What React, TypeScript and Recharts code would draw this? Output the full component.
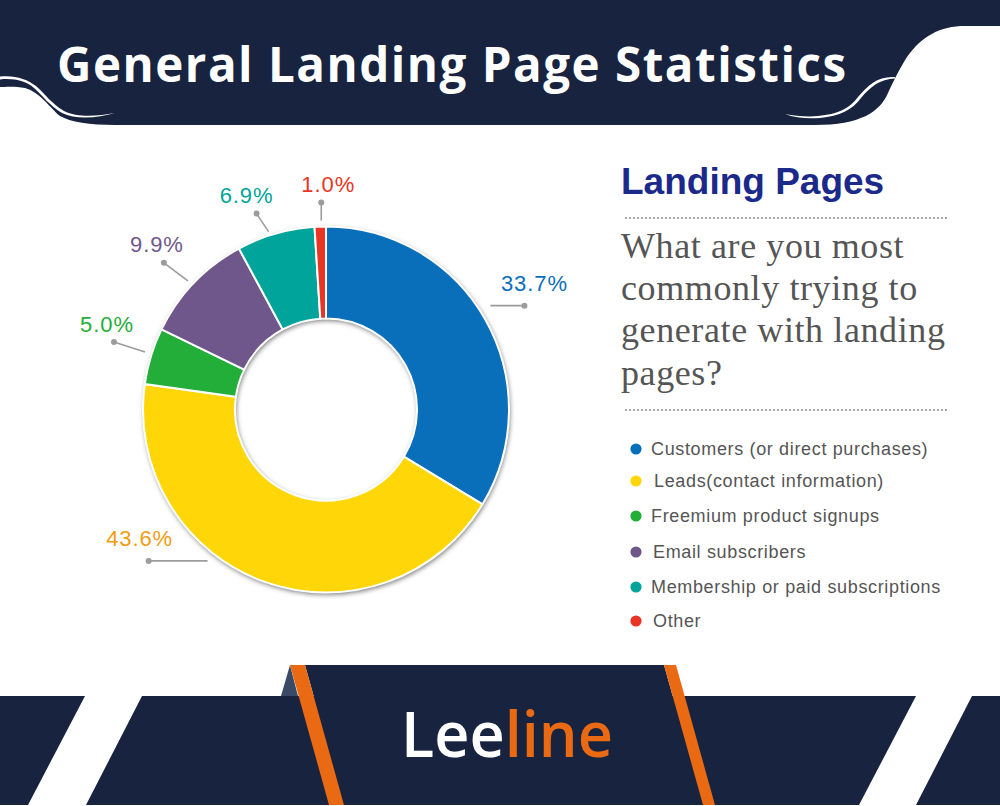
import React from "react";
import { PieChart, Pie, Cell, Legend } from "recharts";

const categories = [
  "Customers (or direct purchases)",
  "Leads(contact information)",
  "Freemium product signups",
  "Email subscribers",
  "Membership or paid subscriptions",
  "Other",
];
const values = [33.7, 43.6, 5.0, 9.9, 6.9, 1.0];
const sliceColors = ["#0a6fba", "#ffd608", "#22ae38", "#6f578c", "#00a49a", "#ea3424"];
const labelColors = ["#0a6fba", "#f39c12", "#22ae38", "#6f578c", "#00a49a", "#ea3424"];
const questionLines = ["What are you most", "commonly trying to", "generate with landing", "pages?"];

// leader-line layout, relative to the slice's outer mid-point: [start, dot, text centre]
const leaderOffsets = [
  [[5, -14], [39, -14], [49, -36]],
  [[-57, -21], [-116, -21], [-125, -43]],
  [[-6, -4], [-37, -14], [-44, -32]],
  [[-6, -2], [-30, -20], [-37, -38]],
  [[-7, -2], [-19, -20], [-29, -38]],
  [[1, -6], [1, -24], [8, -42]],
];
const legendRows = [
  { y: 449, textX: 651 },
  { y: 481, textX: 654 },
  { y: 516, textX: 651 },
  { y: 552, textX: 653 },
  { y: 587, textX: 651 },
  { y: 621, textX: 653 },
];

const data = categories.map((name, i) => ({ name, value: values[i] }));

const NAVY = "#17233f";
const ORANGE = "#e96a12";
const CX = 326;
const CY = 409.5;
const RAD = Math.PI / 180;

function SliceLabel(props: any) {
  const { cx, cy, midAngle, outerRadius, index, value } = props;
  const ex = cx + outerRadius * Math.cos(-midAngle * RAD);
  const ey = cy + outerRadius * Math.sin(-midAngle * RAD);
  const [s, d, t] = leaderOffsets[index];
  return (
    <g>
      <line x1={ex + s[0]} y1={ey + s[1]} x2={ex + d[0]} y2={ey + d[1]} stroke="#9c9c9c" strokeWidth={1.6} />
      <circle cx={ex + d[0]} cy={ey + d[1]} r={3} fill="#9c9c9c" />
      <text
        x={ex + t[0]}
        y={ey + t[1]}
        textAnchor="middle"
        dominantBaseline="central"
        fill={labelColors[index]}
        fontFamily="'Liberation Sans', Arial, sans-serif"
        fontSize={22}
        letterSpacing={0.9}
      >
        {Number(value).toFixed(1)}%
      </text>
    </g>
  );
}

function LegendRows({ payload }: any) {
  return (
    <svg width={1000} height={806} style={{ display: "block", pointerEvents: "none" }}>
      {(payload || []).map((entry: any, i: number) => (
        <g key={entry.value}>
          <circle cx={636} cy={legendRows[i].y} r={5.6} fill={sliceColors[i]} />
          <text
            x={legendRows[i].textX}
            y={legendRows[i].y}
            dominantBaseline="central"
            fill="#555555"
            fontFamily="'Liberation Sans', Arial, sans-serif"
            fontSize={18}
            letterSpacing={0.65}
          >
            {entry.value}
          </text>
        </g>
      ))}
    </svg>
  );
}

function Backdrop() {
  return (
    <svg width={1000} height={806} style={{ position: "absolute", left: 0, top: 0 }}>
      <defs>
        <filter id="ringShadow" x="-20%" y="-20%" width="140%" height="140%">
          <feDropShadow dx={1} dy={2} stdDeviation={2.5} floodColor="#000" floodOpacity={0.55} />
        </filter>
      </defs>
      {/* header */}
      <path
        d="M0,0 H1000 V26 H965 C940,26 922,36 907,57 C900,68 893,82 888,93 C880,112 860,125 815,125 H115 C90,125 70,122 60,116 C50,108 40,92 25,88 C15,86 5,87 0,87 Z"
        fill={NAVY}
      />
      <path
        d="M0,76.5 C15,75 27,79 36,86 C45,94 52,104 64,111 C78,118 98,116 115,113 C98,118 76,120 62,113 C50,106 43,96 34,88 C26,81 14,78 0,79.5 Z"
        fill="#fff"
      />
      <path
        d="M895,77 C878,76 868,85 858,97 C849,109 838,114 818,116 C808,117 795,116 785,114 C795,118 808,119 820,118 C840,116 852,110 861,98 C870,87 880,79 895,78.5 Z"
        fill="#fff"
      />
      <text
        x={57}
        y={81.5}
        fill="#fff"
        fontFamily="'Open Sans', sans-serif"
        fontWeight={700}
        fontSize={47.5}
        textLength={789}
        lengthAdjust="spacing"
      >
        General Landing Page Statistics
      </text>

      {/* footer */}
      <polygon points="0,696 85,696 28,805 0,805" fill={NAVY} />
      <polygon points="142,696 916,696 859,805 86,805" fill={NAVY} />
      <polygon points="972,696 1000,696 1000,805 916,805" fill={NAVY} />
      <polygon points="290,665 281,696 298,696" fill="#3a4a66" />
      <polygon points="305,665 664,665 703,805 344,805" fill={NAVY} />
      <polygon points="290,665 305,665 344,805 329,805" fill={ORANGE} />
      <polygon points="664,665 676,665 715,805 703,805" fill={ORANGE} />
      <text
        x={401}
        y={757}
        fontFamily="'Open Sans', sans-serif"
        fontWeight={600}
        fontSize={63}
        textLength={212}
        lengthAdjust="spacingAndGlyphs"
      >
        <tspan fill="#fff">Lee</tspan>
        <tspan fill={ORANGE}>line</tspan>
      </text>

      {/* right column */}
      <text x={621} y={194} fill="#1b2a8a" fontFamily="'Liberation Sans', Arial, sans-serif" fontWeight={700} fontSize={37}>
        Landing Pages
      </text>
      <line x1={625} x2={948} y1={218} y2={218} stroke="#555" strokeWidth={1.2} strokeDasharray="2 2" />
      <line x1={625} x2={948} y1={410} y2={410} stroke="#555" strokeWidth={1.2} strokeDasharray="2 2" />
      {questionLines.map((line, i) => (
        <text
          key={line}
          x={621}
          y={258 + i * 42.2}
          fill="#555555"
          fontFamily="'Liberation Serif', serif"
          fontSize={36}
          letterSpacing={0.6}
        >
          {line}
        </text>
      ))}

      {/* soft shadow under the ring */}
      <circle cx={CX} cy={CY} r={137} fill="none" stroke="#fff" strokeWidth={92} filter="url(#ringShadow)" />
    </svg>
  );
}

export default function App() {
  return (
    <div style={{ position: "absolute", left: 0, top: 0, width: 1000, height: 806, background: "#fff", overflow: "hidden" }}>
      <Backdrop />
      <div style={{ position: "absolute", left: 0, top: 0 }}>
        <PieChart width={1000} height={806} margin={{ top: 0, right: 0, bottom: 0, left: 0 }}>
          <Pie
            data={data}
            dataKey="value"
            nameKey="name"
            cx={CX}
            cy={CY}
            innerRadius={91}
            outerRadius={183}
            startAngle={90}
            endAngle={-270}
            stroke="#fff"
            strokeWidth={2}
            label={SliceLabel}
            labelLine={false}
            isAnimationActive={false}
          >
            {data.map((d, i) => (
              <Cell key={d.name} fill={sliceColors[i]} />
            ))}
          </Pie>
          <Legend
            content={<LegendRows />}
            itemSorter={null}
            wrapperStyle={{ position: "absolute", left: 0, top: 0, bottom: "auto", width: 1000, height: 806, pointerEvents: "none" }}
          />
        </PieChart>
      </div>
    </div>
  );
}
